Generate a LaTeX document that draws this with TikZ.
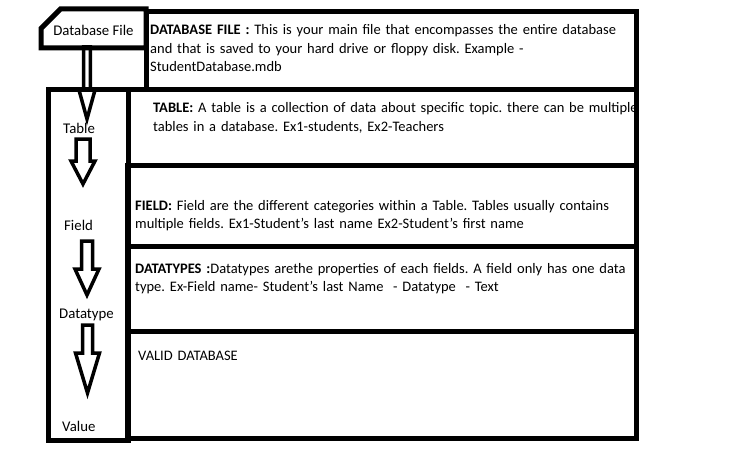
\documentclass[tikz,border=0pt]{standalone}
\usepackage{fontspec}
\setmainfont{Carlito}
\usetikzlibrary{shapes.misc}
\frenchspacing
\newcommand\blkarrow[6]{%
  \draw[blk] ({#1-#5},#2) -- ({#1+#5},#2) -- ({#1+#5},#3) -- ({#1+#6},#3) -- (#1,#4) -- ({#1-#6},#3) -- ({#1-#5},#3) -- cycle;}
\begin{document}
\begin{tikzpicture}[x=1pt,y=-1pt,
  box/.style={draw, line width=5pt, inner sep=0pt, outer sep=0pt, anchor=north west},
  para/.style={anchor=base west, inner sep=0pt, text width=520pt, align=left, font=\fontsize{14.5}{18.5}\selectfont},
  lbl/.style={anchor=base west, inner sep=0pt, font=\fontsize{14.8}{17}\selectfont},
  blk/.style={draw, line width=3.5pt, line join=miter}]
\useasboundingbox[fill=white] (0,0) rectangle (745,460);
% boxes
\node[box, minimum width=490pt, minimum height=78pt] (dbbox) at (146,12) {};
\node[box, minimum width=80pt, minimum height=350pt] (col) at (48,90) {};
\node[box, minimum width=508pt, minimum height=75pt] (tablebox) at (128,90) {};
\node[box, minimum width=509pt, minimum height=81pt] (fieldbox) at (127,165) {};
\node[box, minimum width=509pt, minimum height=85pt] (typebox) at (127,246) {};
\node[box, minimum width=509pt, minimum height=107pt] (validbox) at (127,331) {};
\node[draw, line width=5pt, inner sep=0pt, outer sep=0pt, chamfered rectangle,
  chamfered rectangle corners=north west, chamfered rectangle xsep=12pt, chamfered rectangle ysep=12pt,
  minimum width=105pt, minimum height=33pt, fill=white, text height=15pt, text depth=0pt,
  font=\fontsize{14.8}{17}\selectfont] (dbfile) at (93.5,28.5) {Database File};
% arrows
\blkarrow{87}{47}{90}{119}{3.4}{8}
\blkarrow{83}{139}{161}{184}{7}{12}
\blkarrow{87}{241}{269}{295}{5.5}{12}
\blkarrow{87.5}{325}{353}{393}{5}{12}
% labels
\node[lbl] (ltable) at (63,133) {Table};
\node[lbl] (lfield) at (64,230) {Field};
\node[lbl] (ltype) at (59,318) {Datatype};
\node[lbl] (lvalue) at (62,431) {Value};
% texts
\node[para] (tdb) at (150,35) {\textbf{DATABASE FILE :} This is your main file that encompasses the entire database\\and that is saved to your hard drive or floppy disk. Example -\\StudentDatabase.mdb};
\node[para] (ttable) at (153,113) {\textbf{TABLE:} A table is a collection of data about specific topic. there can be multiple\\tables in a database. Ex1-students, Ex2-Teachers};
\node[para] (tfield) at (135,210) {\textbf{FIELD:} Field are the different categories within a Table. Tables usually contains\\multiple fields. Ex1-Student's last name Ex2-Student's first name};
\node[para] (ttype) at (135,273) {\textbf{DATATYPES :}Datatypes arethe properties of each fields. A field only has one data\\type. Ex-Field name- Student's last Name\ \ - Datatype\ \ - Text};
\node[para] (tvalid) at (138,360) {VALID DATABASE};
\end{tikzpicture}
\end{document}
